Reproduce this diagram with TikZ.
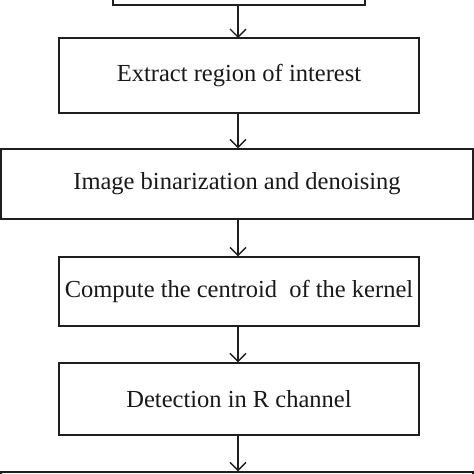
\documentclass[tikz,border=0pt]{standalone}
\usepackage{fontspec}
\setmainfont{Liberation Serif}
\usetikzlibrary{arrows.meta}
\begin{document}
\begin{tikzpicture}[x=1pt,y=-1pt,
  stepbox/.style={draw=black!88, line width=1.4pt, rectangle, inner sep=0pt,
    font=\fontsize{24.5}{28}\selectfont, text=black!90},
  flow/.style={draw=black!88, line width=1.3pt,
    -{Straight Barb[length=8pt,width=16pt,line width=1.4pt]}}]
\useasboundingbox (0,0) rectangle (474,474);
\clip (0,0) rectangle (474,474);
\fill[white] (0,0) rectangle (474,474);
\node[stepbox, minimum width=252pt, minimum height=60pt] (b1) at (239,-25) {};
\node[stepbox, minimum width=360pt, minimum height=75pt] (b2) at (239,75.5) {Extract region of interest};
\node[stepbox, minimum width=472pt, minimum height=70pt] (b3) at (237,184) {Image binarization and denoising};
\node[stepbox, minimum width=360pt, minimum height=69pt] (b4) at (239,291.5) {Compute the centroid\ \ of the kernel};
\node[stepbox, minimum width=360pt, minimum height=72pt] (b5) at (239,399) {Detection in R channel};
\node[stepbox, minimum width=472pt, minimum height=60pt] (b6) at (237,502) {};
\draw[flow] (b1.south -| 238,0) -- (238,38);
\draw[flow] (b2.south -| 238,0) -- (b3.north -| 238,0);
\draw[flow] (b3.south -| 238,0) -- (b4.north -| 238,0);
\draw[flow] (b4.south -| 238,0) -- (b5.north -| 238,0);
\draw[flow] (b5.south -| 238,0) -- (b6.north -| 238,0);
\end{tikzpicture}
\end{document}
